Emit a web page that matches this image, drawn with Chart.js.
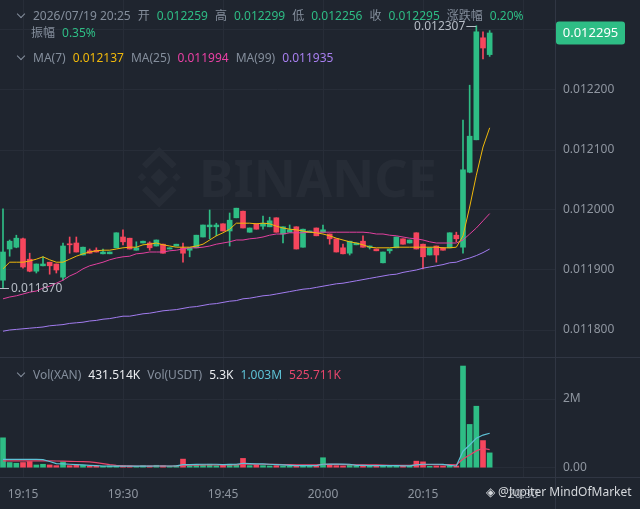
<!DOCTYPE html>
<html>
<head>
<meta charset="utf-8">
<script src="https://cdn.jsdelivr.net/npm/chart.js@4.4.1/dist/chart.umd.min.js"></script>
<style>
  html, body { margin: 0; padding: 0; background: #1f252f; }
  #wrap { position: relative; width: 640px; height: 509px; overflow: hidden;
          font-family: 'Noto Sans', 'Noto Sans CJK SC', sans-serif; font-size: 12px; }
  #mark, #chart { position: absolute; left: 0; top: 0; }
  .row { position: absolute; left: 16px; white-space: nowrap; color: #848e9c; line-height: 16px; }
  .row span { margin-right: 7px; }
  .row .chev { display: inline-block; width: 5px; height: 5px; margin: 0 9px 3px 2px;
               border-right: 1.3px solid #848e9c; border-bottom: 1.3px solid #848e9c; transform: rotate(45deg); }
  .g { color: #2ebd85; }
  .w { color: #eaecef; }
  #sig { position: absolute; left: 486px; top: 485px; color: #d5d8dc; white-space: nowrap; line-height: 14px; }
</style>
</head>
<body>
<div id="wrap">
  <svg id="mark" width="640" height="509">
    <g fill="rgba(255,255,255,0.035)" transform="translate(129,147) scale(0.48)">
      <polygon points="63,45 81,63 63,81 45,63"/>
      <polygon points="18,63 27,54 36,63 27,72"/>
      <polygon points="90,63 99,54 108,63 99,72"/>
      <polygon points="63,0 99,36 90,45 63,18 36,45 27,36"/>
      <polygon points="63,126 27,90 36,81 63,108 90,81 99,90"/>
    </g>
    <text x="199" y="197" font-family="Noto Sans" font-weight="bold" font-size="52" fill="rgba(255,255,255,0.035)">BINANCE</text>
  </svg>
  <canvas id="chart" width="640" height="509"></canvas>
  <div class="row" style="top:8px"><i class="chev"></i><span id="hdate"></span><span>开</span><span class="g" id="ho"></span><span>高</span><span class="g" id="hh"></span><span>低</span><span class="g" id="hl"></span><span>收</span><span class="g" id="hc"></span><span>涨跌幅</span><span class="g" id="hchg"></span></div>
  <div class="row" style="top:25px; left:31px"><span>振幅</span><span class="g" id="hamp"></span></div>
  <div class="row" style="top:50px"><i class="chev"></i><span>MA(7)</span><span id="m7" style="color:#f0b90b"></span><span>MA(25)</span><span id="m25" style="color:#eb40a5"></span><span>MA(99)</span><span id="m99" style="color:#a87ff0"></span></div>
  <div class="row" style="top:367px"><i class="chev"></i><span>Vol(XAN)</span><span class="w" id="vx"></span><span>Vol(USDT)</span><span class="w" id="vu"></span><span id="va" style="color:#5ec2d6"></span><span id="vb" style="color:#e6466c"></span></div>
  <div id="sig">&#9672; @Jupiter MindOfMarket</div>
</div>
<script>
// 1-minute candles, 19:12 - 20:25
var times = ['19:12','19:13','19:14','19:15','19:16','19:17','19:18','19:19','19:20','19:21',
  '19:22','19:23','19:24','19:25','19:26','19:27','19:28','19:29','19:30','19:31',
  '19:32','19:33','19:34','19:35','19:36','19:37','19:38','19:39','19:40','19:41',
  '19:42','19:43','19:44','19:45','19:46','19:47','19:48','19:49','19:50','19:51',
  '19:52','19:53','19:54','19:55','19:56','19:57','19:58','19:59','20:00','20:01',
  '20:02','20:03','20:04','20:05','20:06','20:07','20:08','20:09','20:10','20:11',
  '20:12','20:13','20:14','20:15','20:16','20:17','20:18','20:19','20:20','20:21',
  '20:22','20:23','20:24','20:25'];

var opens = [0.011883,0.011935,0.011938,0.011952,0.011918,0.011898,0.011907,0.011913,0.011910,0.011888,
  0.011943,0.011945,0.011925,0.011932,0.011933,0.011927,0.011927,0.011937,0.011955,0.011953,
  0.011933,0.011945,0.011945,0.011940,0.011943,0.011935,0.011940,0.011937,0.011933,0.011937,
  0.011955,0.011972,0.011972,0.011977,0.011965,0.011987,0.011998,0.011963,0.011977,0.011973,
  0.011972,0.011987,0.011960,0.011963,0.011972,0.011938,0.011963,0.011970,0.011963,0.011960,
  0.011952,0.011937,0.011928,0.011942,0.011948,0.011938,0.011935,0.011912,0.011932,0.011937,
  0.011952,0.011945,0.011962,0.011943,0.011925,0.011940,0.011937,0.011937,0.011958,0.011938,
  0.012063,0.012117,0.012287,0.012259];
var highs = [0.012002,0.011950,0.011958,0.011953,0.011928,0.011910,0.011922,0.011913,0.011910,0.011945,
  0.011955,0.011955,0.011938,0.011935,0.011937,0.011935,0.011930,0.011962,0.011967,0.011953,
  0.011947,0.011948,0.011947,0.011950,0.011943,0.011937,0.011943,0.011945,0.011937,0.011958,
  0.011975,0.012000,0.011978,0.011977,0.011995,0.012003,0.011998,0.011970,0.011977,0.011990,
  0.011988,0.011987,0.011972,0.011975,0.011972,0.011968,0.011965,0.011970,0.011975,0.011960,
  0.011952,0.011943,0.011948,0.011945,0.011957,0.011940,0.011935,0.011930,0.011935,0.011955,
  0.011952,0.011950,0.011962,0.011943,0.011937,0.011940,0.011937,0.011962,0.011963,0.012150,
  0.012208,0.012307,0.012297,0.012299];
var lows = [0.011870,0.011923,0.011937,0.011903,0.011897,0.011895,0.011907,0.011893,0.011895,0.011883,
  0.011928,0.011930,0.011925,0.011928,0.011930,0.011927,0.011927,0.011937,0.011942,0.011935,
  0.011933,0.011945,0.011933,0.011940,0.011928,0.011935,0.011940,0.011913,0.011922,0.011937,
  0.011955,0.011952,0.011957,0.011965,0.011940,0.011987,0.011970,0.011963,0.011968,0.011968,
  0.011972,0.011963,0.011945,0.011963,0.011935,0.011938,0.011963,0.011957,0.011963,0.011943,
  0.011930,0.011927,0.011925,0.011942,0.011938,0.011935,0.011932,0.011912,0.011928,0.011937,
  0.011943,0.011945,0.011935,0.011902,0.011925,0.011913,0.011933,0.011937,0.011947,0.011928,
  0.012062,0.012117,0.012252,0.012256];
var closes = [0.011930,0.011948,0.011953,0.011905,0.011898,0.011910,0.011910,0.011907,0.011900,0.011940,
  0.011942,0.011930,0.011938,0.011928,0.011930,0.011930,0.011930,0.011962,0.011947,0.011935,
  0.011937,0.011948,0.011937,0.011950,0.011928,0.011937,0.011943,0.011928,0.011937,0.011958,
  0.011975,0.011975,0.011975,0.011965,0.011983,0.012003,0.011970,0.011970,0.011968,0.011978,
  0.011982,0.011963,0.011972,0.011967,0.011935,0.011968,0.011965,0.011957,0.011967,0.011952,
  0.011930,0.011927,0.011948,0.011945,0.011938,0.011940,0.011932,0.011930,0.011935,0.011955,
  0.011943,0.011950,0.011935,0.011922,0.011937,0.011925,0.011933,0.011962,0.011952,0.012067,
  0.012123,0.012297,0.012270,0.012295];

var ma7 = [0.011902,0.011913,0.011913,0.011913,0.011915,0.011918,0.011922,0.011917,0.011913,0.011913,
  0.011918,0.011923,0.011927,0.011930,0.011932,0.011933,0.011933,0.011935,0.011937,0.011938,
  0.011938,0.011942,0.011943,0.011945,0.011942,0.011940,0.011938,0.011938,0.011938,0.011940,
  0.011943,0.011950,0.011957,0.011962,0.011968,0.011978,0.011978,0.011978,0.011977,0.011978,
  0.011977,0.011973,0.011970,0.011968,0.011967,0.011965,0.011963,0.011962,0.011960,0.011957,
  0.011953,0.011950,0.011947,0.011945,0.011942,0.011938,0.011937,0.011937,0.011937,0.011938,
  0.011938,0.011938,0.011938,0.011938,0.011938,0.011938,0.011937,0.011937,0.011938,0.011957,
  0.012005,0.012058,0.012105,0.012137];
var ma25 = [0.011852,0.011855,0.011857,0.011860,0.011863,0.011865,0.011870,0.011873,0.011878,0.011883,
  0.011890,0.011895,0.011902,0.011907,0.011910,0.011913,0.011917,0.011920,0.011922,0.011923,
  0.011927,0.011928,0.011930,0.011930,0.011930,0.011932,0.011933,0.011935,0.011937,0.011937,
  0.011938,0.011940,0.011943,0.011945,0.011947,0.011950,0.011950,0.011952,0.011953,0.011955,
  0.011958,0.011960,0.011960,0.011962,0.011962,0.011962,0.011963,0.011963,0.011963,0.011963,
  0.011963,0.011963,0.011963,0.011963,0.011963,0.011962,0.011960,0.011960,0.011958,0.011957,
  0.011955,0.011953,0.011952,0.011950,0.011947,0.011945,0.011945,0.011945,0.011945,0.011950,
  0.011960,0.011970,0.011982,0.011994];
var ma99 = [0.011798,0.011800,0.011801,0.011802,0.011803,0.011804,0.011805,0.011807,0.011808,0.011809,
  0.011811,0.011812,0.011813,0.011815,0.011816,0.011818,0.011819,0.011821,0.011823,0.011823,
  0.011825,0.011827,0.011828,0.011830,0.011832,0.011833,0.011834,0.011836,0.011838,0.011839,
  0.011841,0.011843,0.011844,0.011846,0.011848,0.011849,0.011852,0.011853,0.011855,0.011857,
  0.011858,0.011860,0.011862,0.011864,0.011866,0.011868,0.011869,0.011871,0.011873,0.011875,
  0.011877,0.011878,0.011880,0.011882,0.011884,0.011886,0.011888,0.011890,0.011892,0.011893,
  0.011896,0.011898,0.011900,0.011903,0.011905,0.011907,0.011909,0.011912,0.011913,0.011917,
  0.011920,0.011924,0.011929,0.011935];

// volume in thousands
var volumes = [870,150,130,150,180,80,100,80,60,170,
  60,80,70,50,50,40,50,60,60,50,
  40,60,50,70,60,40,60,250,60,90,
  80,100,60,90,100,100,270,60,80,60,
  50,60,50,40,60,60,70,50,290,70,
  60,50,70,60,70,50,60,50,60,60,
  50,60,190,170,40,50,50,60,50,2960,
  1260,1790,790,431.514];
var volMaA = [240,240,240,240,240,240,235,180,120,110,
  100,90,80,70,60,50,45,45,45,45,
  45,45,45,50,50,50,55,90,90,95,
  100,100,100,90,95,100,130,120,110,110,
  100,90,80,70,60,60,60,60,100,105,
  105,105,100,70,65,60,60,60,60,60,
  55,55,80,100,100,100,95,70,50,480,
  660,860,950,1003];
var volMaB = [200,200,200,200,200,200,200,200,195,190,
  185,180,175,170,150,120,90,70,60,55,
  50,50,50,50,50,50,55,70,75,75,
  80,80,80,85,85,85,100,100,100,100,
  95,95,90,90,85,85,80,80,95,95,
  95,90,90,85,85,85,80,75,70,70,
  65,65,80,90,90,90,90,90,85,250,
  370,490,565,525.711];

var timeTicks = ['19:15','19:30','19:45','20:00','20:15','20:30'];
var priceTicks = [0.0118, 0.0119, 0.012, 0.0121, 0.0122, 0.0123];
var volTicks = [0, 2000];

var GREEN = '#2ebd85', RED = '#f6465d', GRID = '#272d38', LINE = '#303643', TXT = '#8f96a0';

function toMin(s) { var p = s.split(':'); return +p[0] * 60 + +p[1]; }
function fmtMin(m) { var h = Math.floor(m / 60), mm = m % 60; return h + ':' + (mm < 10 ? '0' : '') + mm; }

var xs = times.map(toMin);
var colors = closes.map(function(c, i) { return c >= opens[i] ? GREEN : RED; });
function pts(arr) { return arr.map(function(v, i) { return {x: xs[i], y: v}; }); }

var last = times.length - 1;
document.getElementById('hdate').textContent = '2026/07/19 ' + times[last];
document.getElementById('ho').textContent = opens[last].toFixed(6);
document.getElementById('hh').textContent = highs[last].toFixed(6);
document.getElementById('hl').textContent = lows[last].toFixed(6);
document.getElementById('hc').textContent = closes[last].toFixed(6);
document.getElementById('hchg').textContent = ((closes[last] - closes[last - 1]) / closes[last - 1] * 100).toFixed(2) + '%';
document.getElementById('hamp').textContent = ((highs[last] - lows[last]) / closes[last - 1] * 100).toFixed(2) + '%';
document.getElementById('m7').textContent = ma7[last].toFixed(6);
document.getElementById('m25').textContent = ma25[last].toFixed(6);
document.getElementById('m99').textContent = ma99[last].toFixed(6);
document.getElementById('vx').textContent = volumes[last].toFixed(3) + 'K';
document.getElementById('vu').textContent = (volumes[last] * closes[last]).toFixed(1) + 'K';
document.getElementById('va').textContent = (volMaA[last] / 1000).toFixed(3) + 'M';
document.getElementById('vb').textContent = volMaB[last].toFixed(3) + 'K';

var FONT = "'Noto Sans', 'Noto Sans CJK SC', sans-serif";
Chart.defaults.font.family = FONT;
Chart.defaults.font.size = 12;
Chart.defaults.color = TXT;

// separators, high/low markers and the last price tag
var overlay = {
  id: 'overlay',
  afterDraw: function(chart) {
    var ctx = chart.ctx, area = chart.chartArea, x = chart.scales.x, y = chart.scales.y;
    ctx.save();
    ctx.strokeStyle = LINE;
    ctx.lineWidth = 1;
    ctx.beginPath();
    ctx.moveTo(Math.round(area.right) + 0.5, 0);
    ctx.lineTo(Math.round(area.right) + 0.5, chart.height);
    ctx.moveTo(0, Math.round(y.bottom) + 0.5);
    ctx.lineTo(chart.width, Math.round(y.bottom) + 0.5);
    ctx.moveTo(0, Math.round(area.bottom) - 0.5);
    ctx.lineTo(chart.width, Math.round(area.bottom) - 0.5);
    ctx.stroke();

    var hi = highs.indexOf(Math.max.apply(null, highs));
    var lo = lows.indexOf(Math.min.apply(null, lows));
    ctx.font = '12px ' + FONT;
    ctx.fillStyle = '#b7bdc6';
    ctx.strokeStyle = '#b7bdc6';
    ctx.textBaseline = 'middle';
    var hx = x.getPixelForValue(xs[hi]), hy = Math.round(y.getPixelForValue(highs[hi])) + 0.5;
    ctx.beginPath(); ctx.moveTo(hx - 10, hy); ctx.lineTo(hx, hy); ctx.stroke();
    ctx.textAlign = 'right';
    ctx.fillText(highs[hi].toFixed(6), hx - 11, hy);
    var lx = x.getPixelForValue(xs[lo]), ly = Math.round(y.getPixelForValue(lows[lo])) + 0.5;
    ctx.beginPath(); ctx.moveTo(lx - 3, ly); ctx.lineTo(lx + 6, ly); ctx.stroke();
    ctx.textAlign = 'left';
    ctx.fillText(lows[lo].toFixed(6), lx + 8, ly);

    var py = y.getPixelForValue(closes[last]);
    var tx = area.right + 1, tw = 69, th = 23;
    ctx.fillStyle = colors[last];
    ctx.beginPath();
    ctx.roundRect(tx, py - th / 2, tw, th, 3);
    ctx.fill();
    ctx.fillStyle = '#ffffff';
    ctx.textAlign = 'center';
    ctx.font = '13px ' + FONT;
    ctx.fillText(closes[last].toFixed(6), tx + tw / 2, py + 0.5);
    ctx.restore();
  }
};

function noPad(scale) { scale.paddingTop = 0; scale.paddingBottom = 0; scale.paddingLeft = 0; scale.paddingRight = 0; }

new Chart(document.getElementById('chart'), {
  type: 'bar',
  data: {
    datasets: [
      { type: 'line', data: pts(ma7), borderColor: '#f0b90b', borderWidth: 1, pointRadius: 0, yAxisID: 'y', order: 0 },
      { type: 'line', data: pts(ma25), borderColor: '#e2409f', borderWidth: 1, pointRadius: 0, yAxisID: 'y', order: 0 },
      { type: 'line', data: pts(ma99), borderColor: '#a27cf0', borderWidth: 1, pointRadius: 0, yAxisID: 'y', order: 0 },
      { data: opens.map(function(o, i) { return {x: xs[i], y: [o, closes[i]]}; }),
        backgroundColor: colors, barThickness: 5, minBarLength: 1, grouped: false, yAxisID: 'y', order: 1 },
      { data: lows.map(function(l, i) { return {x: xs[i], y: [l, highs[i]]}; }),
        backgroundColor: colors, barThickness: 1, grouped: false, yAxisID: 'y', order: 2 },
      { type: 'line', data: pts(volMaA), borderColor: '#5ec2d6', borderWidth: 1.2, pointRadius: 0, yAxisID: 'yv', order: 0 },
      { type: 'line', data: pts(volMaB), borderColor: '#e6466c', borderWidth: 1.2, pointRadius: 0, yAxisID: 'yv', order: 0 },
      { data: pts(volumes), backgroundColor: colors, barThickness: 5, grouped: false, yAxisID: 'yv', order: 3 }
    ]
  },
  options: {
    responsive: false,
    animation: false,
    events: [],
    layout: { padding: 0 },
    plugins: { legend: { display: false }, tooltip: { enabled: false } },
    scales: {
      x: {
        type: 'linear', position: 'bottom', offset: false,
        min: toMin(timeTicks[0]) - 3.45, max: toMin(timeTicks[0]) + 79.8,
        grid: { color: GRID, drawTicks: false, offset: false },
        border: { display: false },
        ticks: { padding: 9, maxRotation: 0, callback: function(v) { return fmtMin(v); } },
        afterBuildTicks: function(s) { s.ticks = timeTicks.map(function(t) { return {value: toMin(t)}; }); },
        afterFit: function(s) { s.height = 31; noPad(s); }
      },
      y: {
        type: 'linear', position: 'right', stack: 'pane', stackWeight: 357,
        min: 0.011755, max: 0.01235,
        grid: { color: GRID, drawTicks: false },
        border: { display: false },
        ticks: { padding: 8, callback: function(v) { return v > 0.01225 ? '' : v.toFixed(6); } },
        afterBuildTicks: function(s) { s.ticks = priceTicks.map(function(v) { return {value: v}; }); },
        afterFit: function(s) { s.width = 85; noPad(s); }
      },
      yv: {
        type: 'linear', position: 'right', stack: 'pane', stackWeight: 121,
        min: -300, max: 3223,
        grid: { color: GRID, drawTicks: false },
        border: { display: false },
        ticks: { padding: 8, callback: function(v) { return v === 0 ? '0.00' : (v / 1000) + 'M'; } },
        afterBuildTicks: function(s) { s.ticks = volTicks.map(function(v) { return {value: v}; }); },
        afterFit: function(s) { s.width = 85; noPad(s); }
      }
    }
  },
  plugins: [overlay]
});
</script>
</body>
</html>
